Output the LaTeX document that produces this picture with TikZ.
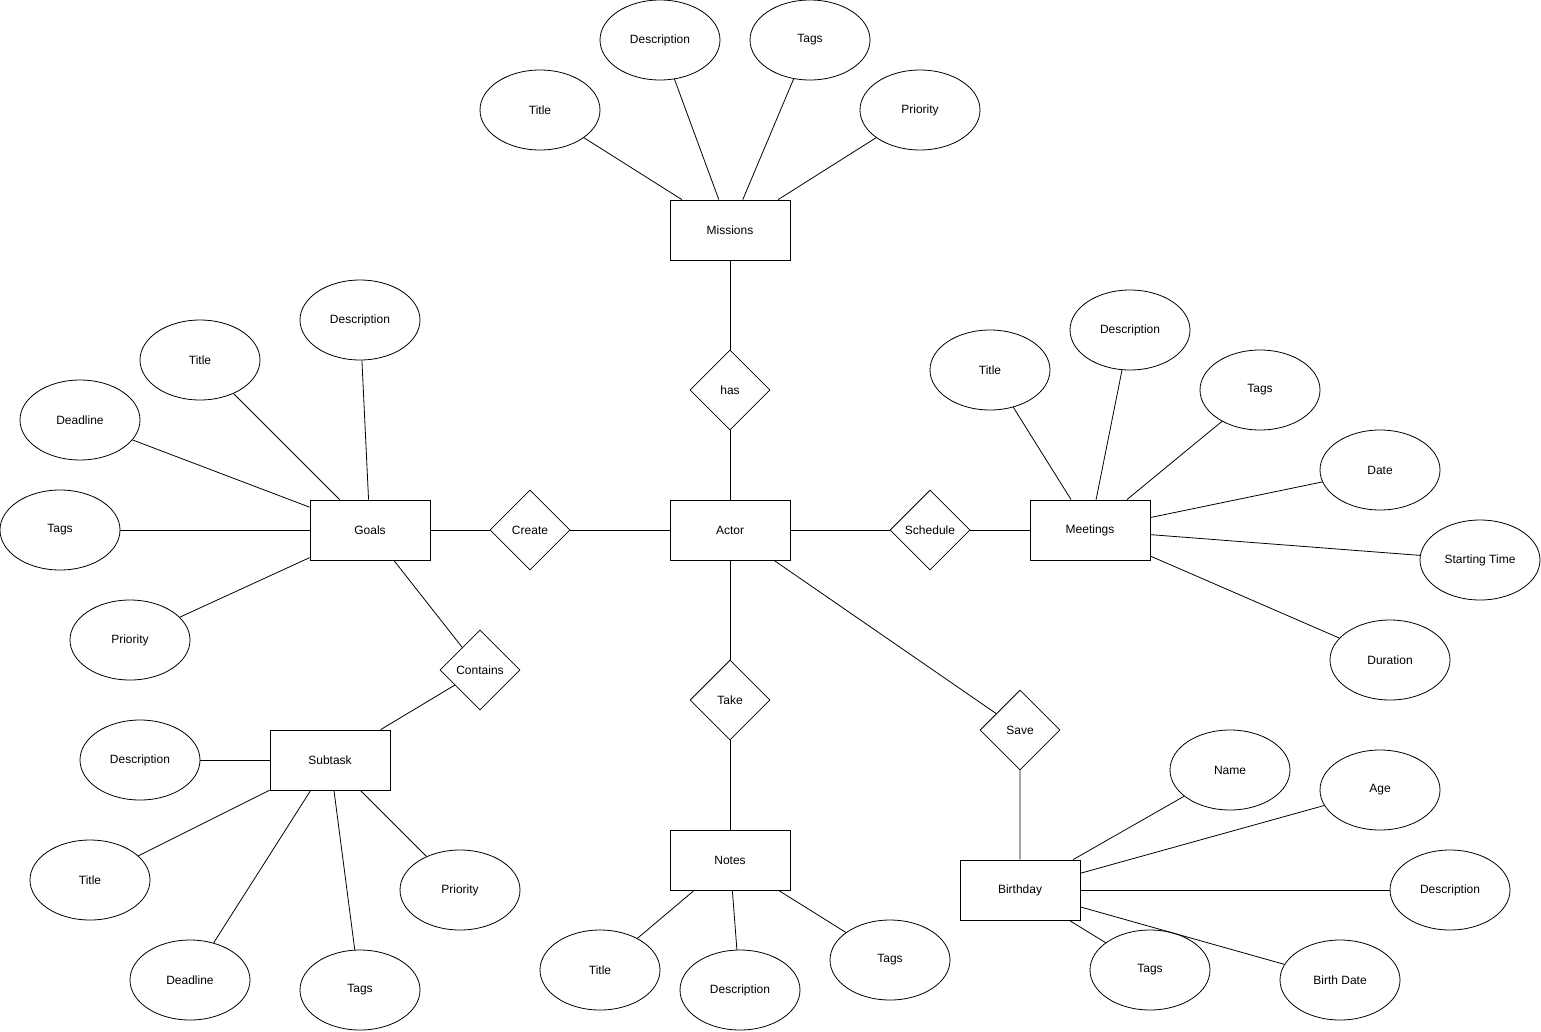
\documentclass[tikz,border=0pt]{standalone}
\usepackage{fontspec}
\setmainfont{Liberation Sans}
\usetikzlibrary{shapes.geometric}
\begin{document}
\begin{tikzpicture}[x=1pt,y=-1pt,
  every node/.style={font=\fontsize{12}{14}\selectfont},
  ent/.style={draw,rectangle,minimum width=120pt,minimum height=60pt,inner sep=0pt},
  att/.style={draw,ellipse,minimum width=120pt,minimum height=80pt,inner sep=0pt},
  rel/.style={draw,diamond,minimum width=80pt,minimum height=80pt,inner sep=0pt,aspect=1},
  line width=0.8pt]
\useasboundingbox (0,0) rectangle (1541,1031);
% entities
\node[ent] (mis) at (730,230) {Missions};
\node[ent] (act) at (730,530) {Actor};
\node[ent] (goa) at (370,530) {Goals};
\node[ent] (mee) at (1090,530) {Meetings};
\node[ent] (not) at (730,860) {Notes};
\node[ent] (bir) at (1020,890) {Birthday};
\node[ent] (sub) at (330,760) {Subtask};
% relations
\node[rel] (has) at (730,390) {has};
\node[rel] (cre) at (530,530) {Create};
\node[rel] (sch) at (930,530) {Schedule};
\node[rel] (tak) at (730,700) {Take};
\node[rel] (sav) at (1020,730) {Save};
\node[rel] (con) at (480,670) {Contains};
% mission attrs
\node[att] (m1) at (540,110) {Title};
\node[att] (m2) at (660,40) {Description};
\node[att] (m3) at (810,40) {Tags};
\node[att] (m4) at (920,110) {Priority};
% goals attrs
\node[att] (g1) at (360,320) {Description};
\node[att] (g2) at (200,360) {Title};
\node[att] (g3) at (80,420) {Deadline};
\node[att] (g4) at (60,530) {Tags};
\node[att] (g5) at (130,640) {Priority};
% subtask attrs
\node[att] (s1) at (140,760) {Description};
\node[att] (s2) at (90,880) {Title};
\node[att] (s3) at (190,980) {Deadline};
\node[att] (s4) at (360,990) {Tags};
\node[att] (s5) at (460,890) {Priority};
% notes attrs
\node[att] (n1) at (600,970) {Title};
\node[att] (n2) at (740,990) {Description};
\node[att] (n3) at (890,960) {Tags};
% meetings attrs
\node[att] (e1) at (990,370) {Title};
\node[att] (e2) at (1130,330) {Description};
\node[att] (e3) at (1260,390) {Tags};
\node[att] (e4) at (1380,470) {Date};
\node[att] (e5) at (1480,560) {Starting Time};
\node[att] (e6) at (1390,660) {Duration};
% birthday attrs
\node[att] (b1) at (1230,770) {Name};
\node[att] (b2) at (1380,790) {Age};
\node[att] (b3) at (1450,890) {Description};
\node[att] (b4) at (1340,980) {Birth Date};
\node[att] (b5) at (1150,970) {Tags};
% relation lines
\draw (mis) -- (has) -- (act);
\draw (goa) -- (cre) -- (act);
\draw (act) -- (sch) -- (mee);
\draw (act) -- (tak) -- (not);
\draw (act) -- (sav) -- (bir);
\draw (goa) -- (con) -- (sub);
% attribute lines
\foreach \a in {m1,m2,m3,m4} \draw (mis) -- (\a);
\foreach \a in {g1,g2,g3,g4,g5} \draw (goa) -- (\a);
\foreach \a in {s1,s2,s3,s4,s5} \draw (sub) -- (\a);
\foreach \a in {n1,n2,n3} \draw (not) -- (\a);
\foreach \a in {e1,e2,e3,e4,e5,e6} \draw (mee) -- (\a);
\foreach \a in {b1,b2,b3,b4,b5} \draw (bir) -- (\a);
\end{tikzpicture}
\end{document}
